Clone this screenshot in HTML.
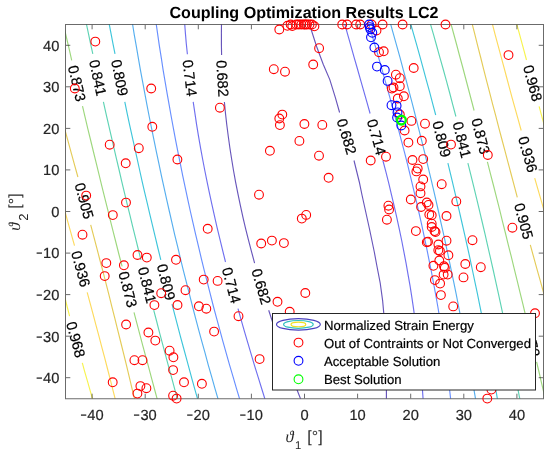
<!DOCTYPE html><html><head><meta charset="utf-8"><title>Coupling Optimization Results LC2</title>
<style>html,body{margin:0;padding:0;background:#fff}body{width:550px;height:453px;overflow:hidden}svg{display:block}text{font-family:"Liberation Sans",sans-serif;fill:#262626;text-rendering:geometricPrecision}text.th{font-family:"Liberation Serif",serif;font-style:italic}</style></head><body>
<svg width="550" height="453" viewBox="0 0 550 453">
<rect width="550" height="453" fill="#fff"/>
<defs><clipPath id="ax"><rect x="65.5" y="24.5" width="478.0" height="374.0"/></clipPath></defs>
<g clip-path="url(#ax)" fill="none" stroke-width="1.15" stroke-opacity="0.78">
<path d="M8.7 22.5 L10.5 34.2 L12.4 46.0 L14.3 57.7 L16.3 69.5 L18.3 81.2 L20.4 93.0 L22.5 104.7 L24.7 116.5 L27.0 128.2 L29.2 140.0 L31.6 151.7 L34.0 163.5 L36.4 175.2 L38.9 187.0 L41.4 198.7 L44.0 210.5 L46.7 222.2 L49.4 234.0 L52.1 245.7 L54.9 257.5 L57.8 269.2 L60.6 281.0 L63.6 292.7 L66.6 304.5 L69.6 316.2M82.3 362.9 L84.9 372.3 L87.6 381.7 L90.3 391.1 L93.0 400.5" stroke="#f5f01c"/>
<path d="M9.3 22.5 L12.9 34.2 L16.5 46.0 L20.1 57.7 L23.6 69.5 L27.1 81.2 L30.6 93.0 L34.1 104.7 L37.6 116.4 L41.0 128.2 L44.5 139.9 L47.9 151.7 L51.3 163.4 L54.7 175.1 L58.0 186.9 L61.3 198.6 L64.7 210.4 L67.9 222.1 L71.2 233.9 L74.5 245.6M87.2 292.3 L90.1 303.1 L93.0 313.9 L95.9 324.8 L98.8 335.6 L101.6 346.4 L104.5 357.2 L107.3 368.0 L110.1 378.9 L112.8 389.7 L115.6 400.5" stroke="#fccf30"/>
<path d="M34.1 22.5 L37.6 34.4 L41.0 46.3 L44.5 58.2 L47.9 70.0 L51.3 81.9 L54.7 93.8 L58.1 105.7 L61.4 117.6 L64.8 129.5 L68.1 141.3 L71.3 153.2 L74.6 165.1 L77.9 177.0M90.7 224.9 L93.8 236.6 L96.9 248.3 L99.9 260.0 L103.0 271.7 L106.0 283.4 L109.0 295.1 L111.9 306.8 L114.9 318.6 L117.8 330.3 L120.7 342.0 L123.6 353.7 L126.5 365.4 L129.3 377.1 L132.1 388.8 L135.0 400.5" stroke="#dcbd29"/>
<path d="M63.1 22.5 L65.2 32.0 L67.4 41.5 L69.6 50.9 L71.7 60.4M82.5 106.2 L85.2 117.6 L87.9 129.1 L90.7 140.5 L93.5 152.0 L96.3 163.4 L99.1 174.9 L101.9 186.3 L104.7 197.7 L107.6 209.2 L110.4 220.6 L113.3 232.1 L116.2 243.5 L119.1 255.0 L122.1 266.4M134.0 312.3 L136.9 323.3 L139.8 334.4 L142.7 345.4 L145.7 356.4 L148.7 367.4 L151.6 378.4 L154.6 389.5 L157.6 400.5" stroke="#81cc59"/>
<path d="M86.1 22.5 L88.3 32.9 L90.5 43.4 L92.8 53.8M103.4 101.8 L105.9 113.1 L108.5 124.4 L111.1 135.7 L113.7 146.9 L116.3 158.2 L119.0 169.5 L121.6 180.8 L124.3 192.1 L127.0 203.4 L129.8 214.7 L132.5 225.9 L135.3 237.2 L138.1 248.5 L140.9 259.8M153.7 310.2 L156.7 321.5 L159.6 332.8 L162.6 344.1 L165.6 355.4 L168.6 366.6 L171.7 377.9 L174.7 389.2 L177.8 400.5" stroke="#31c69f"/>
<path d="M108.9 22.5 L110.9 32.9 L112.9 43.4 L115.0 53.8M124.8 101.8 L127.1 113.1 L129.5 124.4 L132.0 135.7 L134.5 146.9 L137.0 158.2 L139.5 169.5 L142.0 180.8 L144.6 192.1 L147.3 203.4 L149.9 214.7 L152.6 225.9 L155.3 237.2 L158.0 248.5 L160.8 259.8M172.0 304.2 L174.8 314.9 L177.6 325.6 L180.4 336.3 L183.3 347.0 L186.2 357.7 L189.1 368.4 L192.0 379.1 L195.0 389.8 L198.0 400.5" stroke="#08b5d0"/>
<path d="M132.3 22.5 L134.2 34.3 L136.3 46.1 L138.3 57.9 L140.4 69.8 L142.6 81.6 L144.8 93.4 L147.0 105.2 L149.3 117.0 L151.7 128.8 L154.1 140.6 L156.5 152.4 L159.0 164.2 L161.5 176.1 L164.1 187.9 L166.7 199.7 L169.4 211.5 L172.1 223.3 L174.8 235.1 L177.7 246.9 L180.5 258.8 L183.4 270.6 L186.4 282.4 L189.4 294.2 L192.4 306.0 L195.5 317.8 L198.6 329.6 L201.8 341.4 L205.1 353.2 L208.3 365.1 L211.7 376.9 L215.0 388.7 L218.5 400.5" stroke="#2797eb"/>
<path d="M156.0 22.5 L157.7 34.3 L159.4 46.1 L161.3 57.9 L163.1 69.8 L165.1 81.6 L167.1 93.4 L169.2 105.2 L171.3 117.0 L173.5 128.8 L175.7 140.6 L178.0 152.4 L180.4 164.2 L182.8 176.1 L185.3 187.9 L187.8 199.7 L190.4 211.5 L193.1 223.3 L195.8 235.1 L198.6 246.9 L201.4 258.8 L204.3 270.6 L207.3 282.4 L210.3 294.2 L213.3 306.0 L216.5 317.8 L219.7 329.6 L222.9 341.4 L226.2 353.2 L229.6 365.1 L233.1 376.9 L236.5 388.7 L240.1 400.5" stroke="#3e6fff"/>
<path d="M184.6 22.5 L185.4 33.1 L186.3 43.7 L187.4 54.3M193.2 101.8 L194.9 113.2 L196.6 124.7 L198.5 136.1 L200.5 147.6 L202.6 159.0 L204.8 170.5 L207.1 181.9 L209.5 193.3 L212.0 204.8 L214.5 216.2 L217.1 227.7 L219.9 239.1 L222.7 250.6 L225.5 262.0M238.0 308.7 L241.2 320.2 L244.5 331.6 L247.9 343.1 L251.3 354.6 L254.7 366.1 L258.3 377.6 L261.8 389.0 L265.4 400.5" stroke="#4747eb"/>
<path d="M221.5 22.5 L221.4 33.3 L221.4 44.2 L221.6 55.0M224.4 102.0 L225.5 113.5 L226.8 125.0 L228.3 136.5 L229.9 148.0 L231.7 159.5 L233.6 171.0 L235.7 182.6 L238.0 194.1 L240.4 205.6 L242.9 217.1 L245.6 228.6 L248.5 240.1 L251.5 251.6 L254.6 263.1M268.7 310.2 L272.4 321.5 L276.2 332.8 L280.1 344.1 L284.1 355.4 L288.2 366.6 L292.5 377.9 L296.8 389.2 L301.2 400.5" stroke="#3e26a8"/>
<path d="M309.5 22.5 L309.5 24.5 L316.6 46.5 L323.2 64.2 L329.8 79.6 L335.3 97.3 L339.6 112.5M354.0 160.5 L359.3 182.0 L362.0 195.0 L369.5 229.0 L374.3 252.0 L377.0 266.5 L380.2 283.0 L382.6 300.4 L383.8 313.5 L385.4 350.0 L386.4 389.5 L386.4 400.5" stroke="#3e26a8"/>
<path d="M344.4 22.5 L347.5 33.9 L350.7 45.2 L353.9 56.6 L357.2 68.0 L360.4 79.4 L363.7 90.8 L366.9 102.1 L370.1 113.5M382.9 160.5 L385.9 171.9 L388.8 183.4 L391.5 194.8 L394.2 206.2 L396.8 217.6 L399.3 229.1 L401.7 240.5 L403.9 251.9 L406.1 263.4 L408.1 274.8 L410.1 286.2 L411.9 297.6 L413.6 309.1 L415.1 320.5 L416.6 331.9 L418.0 343.4 L419.2 354.8 L420.4 366.2 L421.4 377.6 L422.4 389.1 L423.2 400.5" stroke="#4747eb"/>
<path d="M368.3 22.5 L371.8 34.3 L375.3 46.1 L378.7 57.9 L382.1 69.8 L385.4 81.6 L388.7 93.4 L392.0 105.2 L395.2 117.0 L398.3 128.8 L401.4 140.6 L404.5 152.4 L407.5 164.2 L410.4 176.1 L413.2 187.9 L416.0 199.7 L418.7 211.5 L421.4 223.3 L423.9 235.1 L426.4 246.9 L428.8 258.8 L431.2 270.6 L433.4 282.4 L435.6 294.2 L437.7 306.0 L439.7 317.8 L441.5 329.6 L443.3 341.4 L445.0 353.2 L446.6 365.1 L448.1 376.9 L449.5 388.7 L450.8 400.5" stroke="#3e6fff"/>
<path d="M390.2 22.5 L393.5 34.3 L396.8 46.1 L400.1 57.9 L403.3 69.8 L406.5 81.6 L409.6 93.4 L412.7 105.2 L415.7 117.0 L418.7 128.8 L421.7 140.6 L424.6 152.4 L427.4 164.2 L430.3 176.1 L433.1 187.9 L435.8 199.7 L438.5 211.5 L441.1 223.3 L443.8 235.1 L446.3 246.9 L448.9 258.8 L451.3 270.6 L453.8 282.4 L456.2 294.2 L458.5 306.0 L460.8 317.8 L463.1 329.6 L465.3 341.4 L467.5 353.2 L469.7 365.1 L471.8 376.9 L473.8 388.7 L475.8 400.5" stroke="#2797eb"/>
<path d="M410.3 22.5 L413.6 34.1 L416.9 45.6 L420.1 57.2 L423.3 68.8 L426.4 80.3 L429.6 91.9 L432.6 103.4 L435.7 115.0M447.9 163.2 L450.8 175.1 L453.6 186.9 L456.4 198.8 L459.2 210.7 L461.9 222.5 L464.6 234.4 L467.3 246.3 L469.9 258.1 L472.4 270.0 L474.9 281.9 L477.4 293.7 L479.8 305.6 L482.2 317.4 L484.5 329.3 L486.8 341.2 L489.1 353.0 L491.3 364.9 L493.5 376.8 L495.6 388.6 L497.7 400.5" stroke="#08b5d0"/>
<path d="M430.0 22.5 L433.4 34.2 L436.7 46.0 L440.0 57.8 L443.3 69.5 L446.5 81.2 L449.7 93.0 L452.8 104.8 L455.9 116.5M467.9 163.2 L470.9 175.1 L473.8 186.9 L476.7 198.8 L479.5 210.7 L482.3 222.5 L485.1 234.4 L487.8 246.3 L490.5 258.1 L493.2 270.0 L495.8 281.9 L498.4 293.7 L501.0 305.6 L503.5 317.4 L506.0 329.3 L508.4 341.2 L510.8 353.0 L513.2 364.9 L515.5 376.8 L517.8 388.6 L520.1 400.5" stroke="#31c69f"/>
<path d="M450.6 22.5 L453.6 33.5 L456.6 44.5 L459.5 55.5 L462.5 66.5 L465.4 77.5 L468.3 88.5 L471.2 99.5 L474.1 110.5M487.4 161.8 L490.4 173.7 L493.5 185.5 L496.5 197.4 L499.5 209.2 L502.4 221.1 L505.4 233.0 L508.3 244.8 L511.3 256.7 L514.2 268.6 L517.1 280.4 L520.0 292.3 L522.9 304.1 L525.7 316.0M536.6 361.8 L538.9 371.5 L541.1 381.1 L543.4 390.8 L545.6 400.5" stroke="#81cc59"/>
<path d="M471.8 22.5 L474.8 34.2 L477.7 45.8 L480.7 57.5 L483.6 69.1 L486.6 80.8 L489.6 92.4 L492.6 104.1 L495.7 115.7 L498.7 127.4 L501.8 139.0 L504.9 150.7 L508.0 162.3 L511.1 174.0 L514.2 185.6 L517.3 197.3M530.3 244.9 L533.6 256.9 L536.9 268.8 L540.3 280.8 L543.6 292.8 L547.0 304.7 L550.4 316.7 L553.8 328.7 L557.2 340.7 L560.6 352.6 L564.1 364.6 L567.6 376.6 L571.0 388.5 L574.5 400.5" stroke="#dcbd29"/>
<path d="M492.0 22.5 L494.8 33.3 L497.7 44.1 L500.6 54.9 L503.5 65.7 L506.4 76.5 L509.3 87.3 L512.2 98.1 L515.2 108.9 L518.2 119.7 L521.2 130.5M534.7 178.2 L538.1 189.9 L541.5 201.6 L544.9 213.3 L548.3 225.0 L551.8 236.7 L555.2 248.4 L558.8 260.1 L562.3 271.8 L565.8 283.5 L569.4 295.2 L573.0 306.9 L576.6 318.6 L580.3 330.3 L583.9 342.0 L587.6 353.7 L591.3 365.4 L595.0 377.1 L598.8 388.8 L602.6 400.5" stroke="#fccf30"/>
<path d="M516.3 22.5 L518.9 31.9 L521.4 41.2 L524.0 50.6 L526.5 60.0M539.1 106.4 L542.3 118.2 L545.5 129.9 L548.7 141.7 L551.9 153.5 L555.1 165.2 L558.3 177.0 L561.5 188.7 L564.7 200.5 L567.9 212.3 L571.1 224.0 L574.3 235.8 L577.4 247.6 L580.6 259.3 L583.8 271.1 L587.0 282.9 L590.2 294.6 L593.4 306.4 L596.6 318.2 L599.8 329.9 L603.0 341.7 L606.2 353.4 L609.4 365.2 L612.6 377.0 L615.8 388.7 L619.0 400.5" stroke="#f5f01c"/>
</g>
<g font-size="14.67" text-anchor="middle" fill="#000" stroke="#000" stroke-width="0.2">
<text transform="translate(75.9 339.5) rotate(74.9)" y="5.2" style="fill:#000">0.968</text>
<text transform="translate(80.9 268.9) rotate(74.7)" y="5.2" style="fill:#000">0.936</text>
<text transform="translate(84.3 200.9) rotate(75.0)" y="5.2" style="fill:#000">0.905</text>
<text transform="translate(77.1 83.3) rotate(76.8)" y="5.2" style="fill:#000">0.873</text>
<text transform="translate(128.0 289.4) rotate(75.4)" y="5.2" style="fill:#000">0.873</text>
<text transform="translate(98.0 77.8) rotate(77.6)" y="5.2" style="fill:#000">0.841</text>
<text transform="translate(147.3 285.0) rotate(75.7)" y="5.2" style="fill:#000">0.841</text>
<text transform="translate(119.8 77.8) rotate(78.5)" y="5.2" style="fill:#000">0.809</text>
<text transform="translate(166.4 282.0) rotate(75.8)" y="5.2" style="fill:#000">0.809</text>
<text transform="translate(190.0 78.0) rotate(83.0)" y="5.2" style="fill:#000">0.714</text>
<text transform="translate(231.6 285.4) rotate(75.0)" y="5.2" style="fill:#000">0.714</text>
<text transform="translate(222.6 78.5) rotate(86.6)" y="5.2" style="fill:#000">0.682</text>
<text transform="translate(261.4 286.6) rotate(73.3)" y="5.2" style="fill:#000">0.682</text>
<text transform="translate(346.8 136.5) rotate(73.3)" y="5.2" style="fill:#000">0.682</text>
<text transform="translate(376.7 137.0) rotate(74.7)" y="5.2" style="fill:#000">0.714</text>
<text transform="translate(441.9 139.1) rotate(75.8)" y="5.2" style="fill:#000">0.809</text>
<text transform="translate(462.0 139.8) rotate(75.6)" y="5.2" style="fill:#000">0.841</text>
<text transform="translate(480.8 136.2) rotate(75.5)" y="5.2" style="fill:#000">0.873</text>
<text transform="translate(531.2 338.9) rotate(76.6)" y="5.2" style="fill:#000">0.873</text>
<text transform="translate(523.8 221.1) rotate(74.7)" y="5.2" style="fill:#000">0.905</text>
<text transform="translate(527.9 154.3) rotate(74.2)" y="5.2" style="fill:#000">0.936</text>
<text transform="translate(532.8 83.2) rotate(74.8)" y="5.2" style="fill:#000">0.968</text>
</g>
<g stroke="#262626" stroke-width="1" fill="none" opacity="0.68"><rect x="65.5" y="24.5" width="478.0" height="374.25"/>
<path d="M92.1 398.5v-4.8M92.1 24.5v4.8M65.5 377.7h4.8M543.5 377.7h-4.8M145.2 398.5v-4.8M145.2 24.5v4.8M65.5 336.2h4.8M543.5 336.2h-4.8M198.3 398.5v-4.8M198.3 24.5v4.8M65.5 294.6h4.8M543.5 294.6h-4.8M251.4 398.5v-4.8M251.4 24.5v4.8M65.5 253.1h4.8M543.5 253.1h-4.8M304.5 398.5v-4.8M304.5 24.5v4.8M65.5 211.5h4.8M543.5 211.5h-4.8M357.6 398.5v-4.8M357.6 24.5v4.8M65.5 169.9h4.8M543.5 169.9h-4.8M410.7 398.5v-4.8M410.7 24.5v4.8M65.5 128.4h4.8M543.5 128.4h-4.8M463.8 398.5v-4.8M463.8 24.5v4.8M65.5 86.8h4.8M543.5 86.8h-4.8M516.9 398.5v-4.8M516.9 24.5v4.8M65.5 45.3h4.8M543.5 45.3h-4.8"/></g>
<g fill="none" stroke-width="1.1">
<g stroke="#ff0000"><circle cx="95.3" cy="41.6" r="4.4"/><circle cx="151.2" cy="88.5" r="4.4"/><circle cx="74.8" cy="88.5" r="4.4"/><circle cx="279.3" cy="29.5" r="4.4"/><circle cx="273.8" cy="69.2" r="4.4"/><circle cx="285" cy="71.7" r="4.4"/><circle cx="219.9" cy="107.7" r="4.4"/><circle cx="282.3" cy="114.6" r="4.4"/><circle cx="287.4" cy="25.8" r="4.4"/><circle cx="290.6" cy="24.5" r="4.4"/><circle cx="292.3" cy="26" r="4.4"/><circle cx="296.4" cy="24.5" r="4.4"/><circle cx="298.8" cy="24.5" r="4.4"/><circle cx="301.3" cy="24.5" r="4.4"/><circle cx="303.7" cy="24.5" r="4.4"/><circle cx="305.4" cy="24.5" r="4.4"/><circle cx="307" cy="24.5" r="4.4"/><circle cx="309.5" cy="24.5" r="4.4"/><circle cx="311.9" cy="24.5" r="4.4"/><circle cx="314.4" cy="26.3" r="4.4"/><circle cx="342.2" cy="24.5" r="4.4"/><circle cx="347.1" cy="24.5" r="4.4"/><circle cx="356.1" cy="24.5" r="4.4"/><circle cx="360.2" cy="24.5" r="4.4"/><circle cx="371.6" cy="24.5" r="4.4"/><circle cx="382.6" cy="24.5" r="4.4"/><circle cx="402.6" cy="24.5" r="4.4"/><circle cx="445.5" cy="24.5" r="4.4"/><circle cx="319.1" cy="48.2" r="4.4"/><circle cx="313.2" cy="64.5" r="4.4"/><circle cx="376.5" cy="30.5" r="4.4"/><circle cx="379" cy="52.2" r="4.4"/><circle cx="383.7" cy="51.3" r="4.4"/><circle cx="413.7" cy="68" r="4.4"/><circle cx="508.5" cy="55.1" r="4.4"/><circle cx="395.9" cy="74.7" r="4.4"/><circle cx="399.8" cy="78.2" r="4.4"/><circle cx="399.8" cy="86.2" r="4.4"/><circle cx="391.8" cy="88.6" r="4.4"/><circle cx="393.5" cy="87.5" r="4.4"/><circle cx="403.9" cy="96.3" r="4.4"/><circle cx="397.8" cy="98.5" r="4.4"/><circle cx="399.8" cy="114.5" r="4.4"/><circle cx="411.4" cy="120.9" r="4.4"/><circle cx="425" cy="123.7" r="4.4"/><circle cx="404.6" cy="130.5" r="4.4"/><circle cx="408.4" cy="142.6" r="4.4"/><circle cx="412.5" cy="160" r="4.4"/><circle cx="304.4" cy="124" r="4.4"/><circle cx="322.3" cy="124.9" r="4.4"/><circle cx="299.4" cy="140.9" r="4.4"/><circle cx="319" cy="155.7" r="4.4"/><circle cx="328.6" cy="177.8" r="4.4"/><circle cx="370.7" cy="160.5" r="4.4"/><circle cx="386" cy="156.7" r="4.4"/><circle cx="279.3" cy="118.5" r="4.4"/><circle cx="279.9" cy="125.1" r="4.4"/><circle cx="269.9" cy="150.8" r="4.4"/><circle cx="259" cy="194.7" r="4.4"/><circle cx="177.4" cy="159.5" r="4.4"/><circle cx="152.3" cy="126.8" r="4.4"/><circle cx="109.7" cy="144.7" r="4.4"/><circle cx="138.8" cy="148.2" r="4.4"/><circle cx="125.7" cy="163.3" r="4.4"/><circle cx="86.2" cy="195.6" r="4.4"/><circle cx="126" cy="202.6" r="4.4"/><circle cx="421.8" cy="140.8" r="4.4"/><circle cx="451" cy="144.6" r="4.4"/><circle cx="487.8" cy="155" r="4.4"/><circle cx="423.2" cy="159.1" r="4.4"/><circle cx="417.7" cy="168.6" r="4.4"/><circle cx="416.4" cy="171.4" r="4.4"/><circle cx="423.2" cy="179.5" r="4.4"/><circle cx="441.7" cy="184.2" r="4.4"/><circle cx="420.5" cy="186.4" r="4.4"/><circle cx="420.5" cy="193.2" r="4.4"/><circle cx="410.8" cy="199.5" r="4.4"/><circle cx="456.3" cy="201.4" r="4.4"/><circle cx="421.1" cy="207" r="4.4"/><circle cx="426.8" cy="202.5" r="4.4"/><circle cx="428.5" cy="204.9" r="4.4"/><circle cx="429.3" cy="214.5" r="4.4"/><circle cx="431.7" cy="215.3" r="4.4"/><circle cx="446.5" cy="216" r="4.4"/><circle cx="431.7" cy="223.7" r="4.4"/><circle cx="431.7" cy="227" r="4.4"/><circle cx="434.5" cy="231.1" r="4.4"/><circle cx="435.5" cy="232" r="4.4"/><circle cx="415.9" cy="231.1" r="4.4"/><circle cx="426.8" cy="242.2" r="4.4"/><circle cx="428" cy="241.7" r="4.4"/><circle cx="446.5" cy="240.7" r="4.4"/><circle cx="438.4" cy="244.5" r="4.4"/><circle cx="438.3" cy="250.2" r="4.4"/><circle cx="439.9" cy="251" r="4.4"/><circle cx="448.4" cy="255.3" r="4.4"/><circle cx="439.3" cy="260.5" r="4.4"/><circle cx="433.4" cy="265.8" r="4.4"/><circle cx="444" cy="266.3" r="4.4"/><circle cx="444.8" cy="267.9" r="4.4"/><circle cx="465.3" cy="264" r="4.4"/><circle cx="472.5" cy="240.2" r="4.4"/><circle cx="480.8" cy="267.2" r="4.4"/><circle cx="388.4" cy="205.7" r="4.4"/><circle cx="389.1" cy="209.5" r="4.4"/><circle cx="386.9" cy="219.7" r="4.4"/><circle cx="512.4" cy="227.7" r="4.4"/><circle cx="443.6" cy="274.6" r="4.4"/><circle cx="447.7" cy="274.6" r="4.4"/><circle cx="463.5" cy="277.4" r="4.4"/><circle cx="434.9" cy="280.1" r="4.4"/><circle cx="440.1" cy="283.6" r="4.4"/><circle cx="440.9" cy="295.1" r="4.4"/><circle cx="453.2" cy="306.4" r="4.4"/><circle cx="535" cy="313.3" r="4.4"/><circle cx="306.2" cy="214.9" r="4.4"/><circle cx="301.8" cy="218.6" r="4.4"/><circle cx="283.9" cy="243.1" r="4.4"/><circle cx="207.7" cy="228.8" r="4.4"/><circle cx="261.2" cy="243.5" r="4.4"/><circle cx="271.9" cy="240.6" r="4.4"/><circle cx="176" cy="259.8" r="4.4"/><circle cx="203.7" cy="279.6" r="4.4"/><circle cx="217.6" cy="280.9" r="4.4"/><circle cx="112.8" cy="215.1" r="4.4"/><circle cx="82.5" cy="234.7" r="4.4"/><circle cx="137.5" cy="255" r="4.4"/><circle cx="146.8" cy="257.6" r="4.4"/><circle cx="106.3" cy="263.1" r="4.4"/><circle cx="123.9" cy="265.3" r="4.4"/><circle cx="104.7" cy="276.1" r="4.4"/><circle cx="185.5" cy="290.2" r="4.4"/><circle cx="177.5" cy="305" r="4.4"/><circle cx="198.9" cy="306.3" r="4.4"/><circle cx="206.3" cy="308.7" r="4.4"/><circle cx="238.5" cy="316.2" r="4.4"/><circle cx="214.1" cy="331.6" r="4.4"/><circle cx="277.5" cy="301.8" r="4.4"/><circle cx="259.6" cy="359.1" r="4.4"/><circle cx="169.6" cy="350.7" r="4.4"/><circle cx="173.4" cy="357.3" r="4.4"/><circle cx="173.1" cy="370.1" r="4.4"/><circle cx="184" cy="382.3" r="4.4"/><circle cx="201.9" cy="383.8" r="4.4"/><circle cx="173.1" cy="395.7" r="4.4"/><circle cx="176.6" cy="398.6" r="4.4"/><circle cx="289.7" cy="311.8" r="4.4"/><circle cx="305.3" cy="293" r="4.4"/><circle cx="161.2" cy="293.2" r="4.4"/><circle cx="154.4" cy="305.1" r="4.4"/><circle cx="126.1" cy="324.5" r="4.4"/><circle cx="148.4" cy="332.5" r="4.4"/><circle cx="155.3" cy="340.6" r="4.4"/><circle cx="134.4" cy="360.2" r="4.4"/><circle cx="142.5" cy="360.2" r="4.4"/><circle cx="112.7" cy="382.3" r="4.4"/><circle cx="140.4" cy="386.1" r="4.4"/><circle cx="146.4" cy="388.2" r="4.4"/><circle cx="137.4" cy="393.6" r="4.4"/><circle cx="491.4" cy="389.6" r="4.4"/><circle cx="487.3" cy="398.6" r="4.4"/></g>
<g stroke="#0000ff"><circle cx="369.1" cy="24.5" r="4.4"/><circle cx="369.7" cy="27.1" r="4.4"/><circle cx="370.4" cy="29.3" r="4.4"/><circle cx="372.3" cy="32.8" r="4.4"/><circle cx="371" cy="37.3" r="4.4"/><circle cx="374.4" cy="47.5" r="4.4"/><circle cx="377" cy="66.6" r="4.4"/><circle cx="384.8" cy="70" r="4.4"/><circle cx="387.6" cy="80.9" r="4.4"/><circle cx="391.5" cy="105.2" r="4.4"/><circle cx="396.6" cy="105.8" r="4.4"/><circle cx="397.5" cy="112.4" r="4.4"/><circle cx="397.1" cy="117.5" r="4.4"/><circle cx="401.3" cy="125.5" r="4.4"/></g>
<g stroke="#00ff00" stroke-width="2.4"><circle cx="401.4" cy="120.1" r="4.4"/></g>
</g>
<g font-size="14.67" stroke="#262626" stroke-width="0.2">
<text transform="translate(80.5 419.6) scale(0.72 1)">−</text><text x="87.3" y="419.6">40</text>
<text transform="translate(36.2 383.0) scale(0.72 1)">−</text><text x="59.3" y="383.0" text-anchor="end">40</text>
<text transform="translate(133.6 419.6) scale(0.72 1)">−</text><text x="140.4" y="419.6">30</text>
<text transform="translate(36.2 341.5) scale(0.72 1)">−</text><text x="59.3" y="341.5" text-anchor="end">30</text>
<text transform="translate(186.7 419.6) scale(0.72 1)">−</text><text x="193.5" y="419.6">20</text>
<text transform="translate(36.2 299.9) scale(0.72 1)">−</text><text x="59.3" y="299.9" text-anchor="end">20</text>
<text transform="translate(239.8 419.6) scale(0.72 1)">−</text><text x="246.6" y="419.6">10</text>
<text transform="translate(36.2 258.4) scale(0.72 1)">−</text><text x="59.3" y="258.4" text-anchor="end">10</text>
<text x="304.5" y="419.6" text-anchor="middle">0</text>
<text x="59.3" y="216.8" text-anchor="end">0</text>
<text x="357.6" y="419.6" text-anchor="middle">10</text>
<text x="59.3" y="175.2" text-anchor="end">10</text>
<text x="410.7" y="419.6" text-anchor="middle">20</text>
<text x="59.3" y="133.7" text-anchor="end">20</text>
<text x="463.8" y="419.6" text-anchor="middle">30</text>
<text x="59.3" y="92.1" text-anchor="end">30</text>
<text x="516.9" y="419.6" text-anchor="middle">40</text>
<text x="59.3" y="50.6" text-anchor="end">40</text>
</g>
<text x="304" y="18.0" font-size="16.1" font-weight="bold" text-anchor="middle" style="fill:#000">Coupling Optimization Results LC2</text>
<text x="285.5" y="441.7" class="th" font-size="16.5">ϑ</text><text x="295" y="448.8" font-size="11.3">1</text><text x="307.3" y="441.6" font-size="16.1">[°]</text>
<g transform="translate(19.6 230.8) rotate(-90)"><text x="0" y="0.3" class="th" font-size="16.5">ϑ</text><text x="10.1" y="8.3" font-size="13">2</text><text x="22.1" y="0" font-size="16.1">[°]</text></g>
<g><rect x="272.5" y="313.5" width="263" height="76.5" fill="#fff" stroke="#262626" stroke-width="1"/>
<g fill="none" stroke-width="1.15"><ellipse cx="298.4" cy="324.4" rx="21.9" ry="5.7" stroke="#4a40c0"/><ellipse cx="298.4" cy="324.4" rx="14.8" ry="3.9" stroke="#30c0c0"/><ellipse cx="298.4" cy="324.4" rx="7.4" ry="2.3" stroke="#f0e020"/></g>
<g fill="none" stroke-width="1.1"><circle cx="298.5" cy="342.6" r="4.4" stroke="#ff0000"/><circle cx="298.5" cy="360.8" r="4.4" stroke="#0000ff"/><circle cx="298.5" cy="379.3" r="4.4" stroke="#00ff00"/></g>
<g font-size="13.17" stroke="#000" stroke-width="0.2"><text x="324" y="329.5" style="fill:#000">Normalized Strain Energy</text><text x="324" y="348.4" style="fill:#000">Out of Contraints or Not Converged</text><text x="324" y="366.2" style="fill:#000">Acceptable Solution</text><text x="324" y="384.1" style="fill:#000">Best Solution</text></g></g>
</svg></body></html>
